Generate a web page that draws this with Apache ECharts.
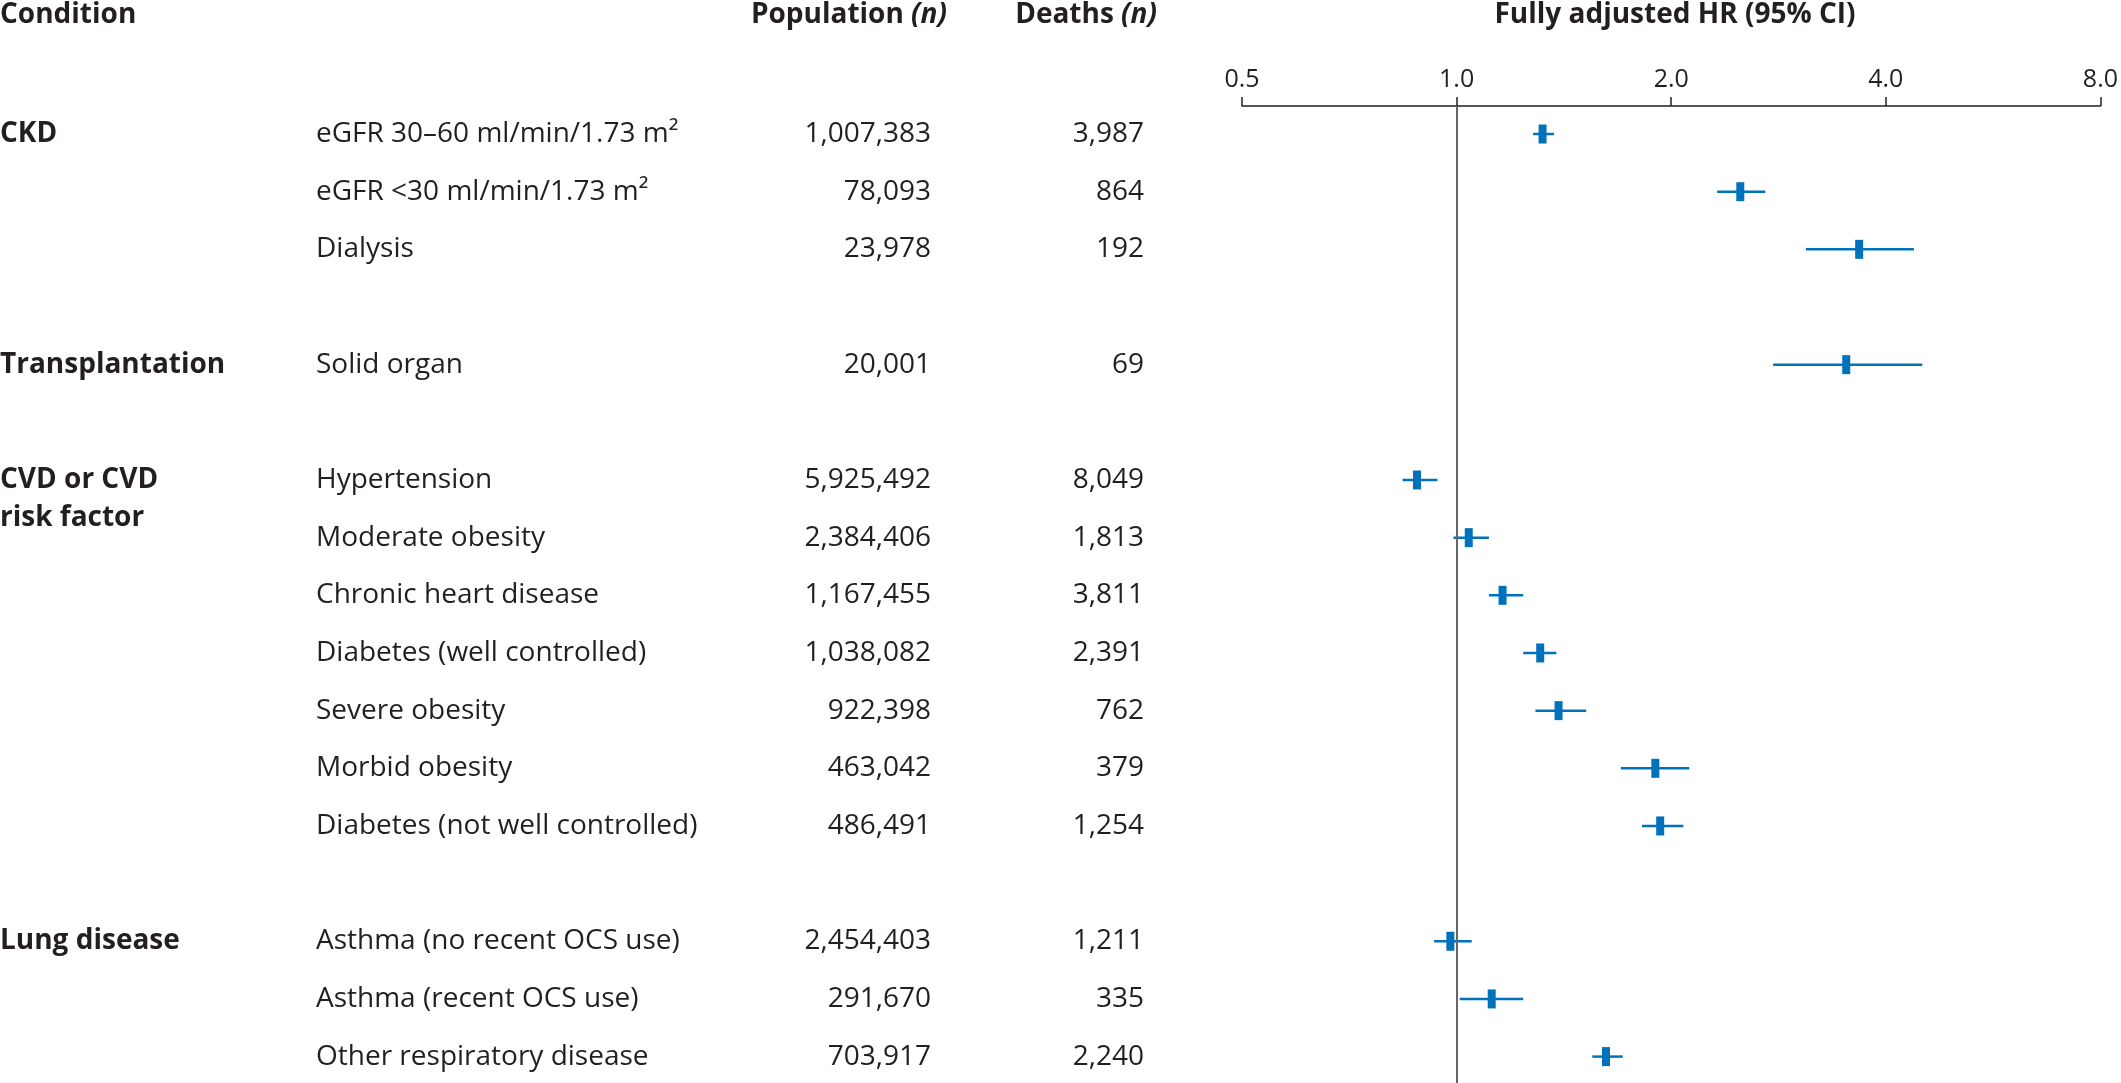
<!DOCTYPE html>
<html>
<head>
<meta charset="utf-8">
<script src="https://cdn.jsdelivr.net/npm/echarts@6/dist/echarts.min.js"></script>
<style>html,body{margin:0;padding:0;background:#fff}#c{width:2121px;height:1083px}</style>
</head>
<body>
<div id="c"></div>
<script>
// ---------- data ----------
const groupNames = ['CKD', 'Transplantation', 'CVD or CVD\nrisk factor', 'Lung disease'];
const groupSizes = [3, 1, 7, 3];
const conditions = [
  'eGFR 30–60 ml/min/1.73 m²',
  'eGFR <30 ml/min/1.73 m²',
  'Dialysis',
  'Solid organ',
  'Hypertension',
  'Moderate obesity',
  'Chronic heart disease',
  'Diabetes (well controlled)',
  'Severe obesity',
  'Morbid obesity',
  'Diabetes (not well controlled)',
  'Asthma (no recent OCS use)',
  'Asthma (recent OCS use)',
  'Other respiratory disease'
];
const population = [1007383, 78093, 23978, 20001, 5925492, 2384406, 1167455, 1038082, 922398, 463042, 486491, 2454403, 291670, 703917];
const deaths = [3987, 864, 192, 69, 8049, 1813, 3811, 2391, 762, 379, 1254, 1211, 335, 2240];
const hr    = [1.32, 2.50, 3.67, 3.52, 0.88, 1.04, 1.16, 1.31, 1.39, 1.90, 1.93, 0.98, 1.12, 1.62];
const lower = [1.28, 2.32, 3.09, 2.78, 0.84, 0.99, 1.11, 1.24, 1.29, 1.70, 1.82, 0.93, 1.01, 1.55];
const upper = [1.37, 2.71, 4.38, 4.50, 0.94, 1.11, 1.24, 1.38, 1.52, 2.12, 2.08, 1.05, 1.24, 1.71];
const axisTicks = [0.5, 1, 2, 4, 8];
const headers = ['Condition', 'Population', 'Deaths', 'Fully adjusted HR (95% CI)'];

// ---------- derived rows (one blank row between groups) ----------
const rowOf = [];
const groupRow = [];
let k = 0;
groupSizes.forEach((n, g) => {
  groupRow.push(k + g);
  for (let j = 0; j < n; j++) { rowOf.push(k + j + g); }
  k += n;
});

const TXT = '#231f20';
const BLUE = '#0072bc';
const FONT = '"Open Sans", "Liberation Sans", sans-serif';
const REG = '28px ' + FONT;
const BOLD = 'bold 28px ' + FONT;
const BOLDI = 'italic bold 28px ' + FONT;

const fmt = v => v.toLocaleString('en-US');

// table text data: [column, row, text, kind]
const tableData = [];
groupNames.forEach((name, g) => tableData.push([0, groupRow[g], name, 'group']));
conditions.forEach((c, i) => {
  tableData.push([316, rowOf[i], c, 'cond']);
  tableData.push([931, rowOf[i], fmt(population[i]), 'num']);
  tableData.push([1144, rowOf[i], fmt(deaths[i]), 'num']);
});

const forestData = hr.map((v, i) => [v, lower[i], upper[i], rowOf[i]]);

const yMin = -0.486, yMax = 16.458;

const chart = echarts.init(document.getElementById('c'), null, {renderer: 'canvas'});
chart.setOption({
  backgroundColor: '#fff',
  animation: false,
  graphic: [
    {type: 'text', left: 0, top: 1, style: {text: headers[0], font: BOLD, fill: TXT}},
    {type: 'text', right: 2121 - 947, top: 1, style: {
      text: '{b|' + headers[1] + ' }{i|(n)}', fill: TXT,
      rich: {b: {font: BOLD, fill: TXT}, i: {font: BOLDI, fill: TXT}}}},
    {type: 'text', right: 2121 - 1157, top: 1, style: {
      text: '{b|' + headers[2] + ' }{i|(n)}', fill: TXT,
      rich: {b: {font: BOLD, fill: TXT}, i: {font: BOLDI, fill: TXT}}}},
    {type: 'text', x: 1675, y: 1, style: {text: headers[3], font: BOLD, fill: TXT, textAlign: 'center'}}
  ],
  grid: [
    {left: 1242, right: 10, top: 106, bottom: 0},
    {left: 0, width: 1200, top: 106, bottom: 0}
  ],
  xAxis: [
    {
      gridIndex: 0, type: 'log', logBase: 2, min: 0.5, max: 8, position: 'top',
      axisLine: {show: true, onZero: false, lineStyle: {color: TXT, width: 1.5}},
      axisTick: {show: true, length: 9, lineStyle: {color: TXT, width: 1.5}},
      axisLabel: {show: true, margin: 14, color: TXT, fontSize: 25, fontFamily: FONT,
        formatter: v => axisTicks.indexOf(+v) >= 0 ? (+v).toFixed(1) : ''},
      splitLine: {show: false}
    },
    {gridIndex: 1, type: 'value', min: 0, max: 1200, show: false}
  ],
  yAxis: [
    {gridIndex: 0, type: 'value', inverse: true, min: yMin, max: yMax, show: false},
    {gridIndex: 1, type: 'value', inverse: true, min: yMin, max: yMax, show: false}
  ],
  series: [
    {
      type: 'custom', xAxisIndex: 0, yAxisIndex: 0, data: forestData,
      clip: false,
      renderItem: (params, api) => {
        const r = api.value(3);
        const c = api.coord([api.value(0), r]);
        const l = api.coord([api.value(1), r]);
        const h = api.coord([api.value(2), r]);
        return {
          type: 'group',
          children: [
            {type: 'line', shape: {x1: l[0], y1: c[1], x2: h[0], y2: c[1]},
             style: {stroke: BLUE, lineWidth: 2.5}},
            {type: 'rect', shape: {x: c[0] - 4, y: c[1] - 9.5, width: 8, height: 19},
             style: {fill: BLUE}}
          ]
        };
      },
      markLine: {
        silent: true, symbol: 'none', label: {show: false},
        lineStyle: {color: '#666', width: 2, type: 'solid'},
        data: [{xAxis: 1}]
      },
      z: 3
    },
    {
      type: 'custom', xAxisIndex: 1, yAxisIndex: 1, data: tableData,
      clip: false,
      renderItem: (params, api) => {
        const d = tableData[params.dataIndex];
        const p = api.coord([d[0], d[1]]);
        const kind = d[3];
        if (kind === 'group') {
          return {type: 'text', x: p[0], y: p[1] - 19,
            style: {text: d[2], font: BOLD, fill: TXT, textAlign: 'left', textVerticalAlign: 'top', lineHeight: 38}};
        }
        return {type: 'text', x: p[0], y: p[1],
          style: {text: d[2], font: REG, fill: TXT,
            textAlign: kind === 'num' ? 'right' : 'left', textVerticalAlign: 'middle'}};
      }
    }
  ]
});
</script>
</body>
</html>
